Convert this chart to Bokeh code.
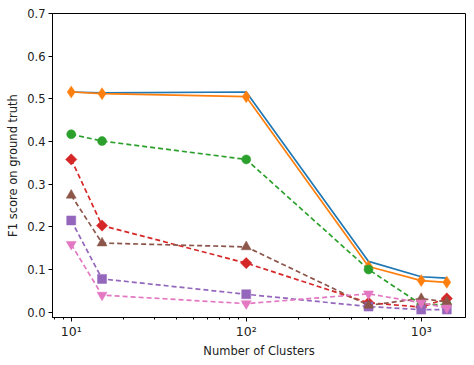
import numpy as np
from bokeh.plotting import figure
from bokeh.models import Range1d, FixedTicker, CustomJSTickFormatter
from bokeh.embed import file_html
from bokeh.resources import INLINE

clusters = [10, 15, 100, 500, 1000, 1400]
s_blue = [0.516, 0.514, 0.516, 0.119, 0.083, 0.080]
s_orange = [0.516, 0.512, 0.505, 0.107, 0.074, 0.070]
s_green = [0.417, 0.401, 0.358, 0.100, 0.018, 0.018]
s_red = [0.358, 0.203, 0.115, 0.022, 0.012, 0.032]
s_purple = [0.215, 0.078, 0.042, 0.013, 0.006, 0.006]
s_brown = [0.274, 0.162, 0.153, 0.016, 0.032, 0.024]
s_pink = [0.159, 0.040, 0.020, 0.043, 0.022, 0.010]

y_ticks = [0.0, 0.1, 0.2, 0.3, 0.4, 0.5, 0.6, 0.7]
x_ticks = [10, 100, 1000]
x_minor = [8, 9, 20, 30, 40, 50, 60, 70, 80, 90, 200, 300, 400, 500, 600, 700, 800, 900]

series = [
    (s_blue, "#1f77b4", "solid", "hexagon", 0),
    (s_orange, "#ff7f0e", "solid", "diamond", 0),
    (s_green, "#2ca02c", "5 3", "circle", 0),
    (s_red, "#d62728", "5 3", "square", np.pi / 4),
    (s_purple, "#9467bd", "5 3", "square", 0),
    (s_brown, "#8c564b", "5 3", "triangle", 0),
    (s_pink, "#e377c2", "5 3", "inverted_triangle", 0),
]

p = figure(width=466, height=364, x_axis_type="log",
           x_range=Range1d(10 ** 0.893, 10 ** 3.253),
           y_range=Range1d(-0.0125, 0.7),
           output_backend="svg", toolbar_location=None,
           min_border_left=52, min_border_right=1, min_border_top=13, min_border_bottom=47)

for ys, color, dash, marker, ang in series:
    p.line(clusters, ys, line_color=color, line_width=1.7, line_dash=dash)
    sz = 9
    if marker == "square" and ang != 0:
        sz = 8
    if marker == "diamond":
        sz = 12
    if marker in ("triangle", "inverted_triangle"):
        sz = 10
    p.scatter(clusters, ys, marker=marker, size=sz, angle=ang,
              fill_color=color, line_color=color, line_width=0.5)

p.xgrid.visible = False
p.ygrid.visible = False
p.outline_line_color = "black"
p.outline_line_width = 1
p.outline_line_alpha = 1

p.yaxis.ticker = FixedTicker(ticks=y_ticks)
p.yaxis.formatter = CustomJSTickFormatter(code="return tick.toFixed(1);")
p.xaxis.ticker = FixedTicker(ticks=x_ticks, minor_ticks=x_minor)
p.xaxis.formatter = CustomJSTickFormatter(code="""
const sup = {'0':'\u2070','1':'\u00b9','2':'\u00b2','3':'\u00b3'};
const e = Math.round(Math.log10(tick)).toString();
return '10' + e.split('').map(c => sup[c]).join('');
""")

for ax in (p.xaxis, p.yaxis):
    ax.axis_line_color = "black"
    ax.major_tick_line_color = "black"
    ax.minor_tick_line_color = "black"
    ax.major_tick_in = 0
    ax.major_tick_out = 4
    ax.minor_tick_in = 0
    ax.minor_tick_out = 2
    ax.major_label_text_font = "DejaVu Sans"
    ax.major_label_text_font_size = "11.5px"
    ax.major_label_text_color = "#222222"
    ax.axis_label_text_font = "DejaVu Sans"
    ax.axis_label_text_font_size = "11.5px"
    ax.axis_label_text_font_style = "normal"
    ax.axis_label_text_color = "#222222"
    ax.major_label_standoff = 3

p.yaxis.minor_tick_line_color = None
p.xaxis.major_label_text_font_size = "12.5px"
p.xaxis.major_label_standoff = 2
p.xaxis.axis_label = "Number of Clusters"
p.yaxis.axis_label = "F1 score on ground truth"
p.xaxis.axis_label_standoff = 2
p.yaxis.axis_label_standoff = 4

open("out.html", "w").write(file_html(p, INLINE))
